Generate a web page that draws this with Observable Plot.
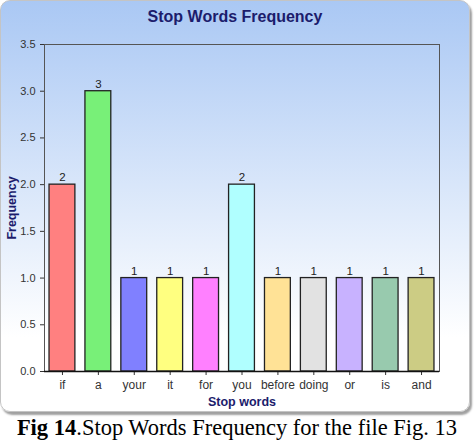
<!DOCTYPE html>
<html><head><meta charset="utf-8">
<script src="https://cdn.jsdelivr.net/npm/d3@7"></script>
<script src="https://cdn.jsdelivr.net/npm/@observablehq/plot@0.6"></script>
<style>
body{margin:0;background:#fff;width:474px;height:440px;overflow:hidden;font-family:"Liberation Sans",Arial,sans-serif;}
#panel{position:absolute;left:0;top:0;width:468px;height:410px;border-radius:10px;background:linear-gradient(#aac8f4,#ffffff 82%);border:1px solid #c4c4c4;box-shadow:2px 3px 2px #a0a0a0;overflow:hidden;}
#title{height:30px;line-height:31px;text-align:center;font-weight:bold;font-size:16px;color:#1c1c6c;}
#caption{position:absolute;top:415px;left:0;width:474px;text-align:center;font-family:"Liberation Serif","Times New Roman",serif;font-size:22.5px;color:#000;}
svg g[aria-label="y-axis label"] text, svg g[aria-label="x-axis label"] text{font-weight:bold;fill:#1c1c6c;font-size:12.5px;}
</style></head>
<body>
<div id="panel"><div id="title">Stop Words Frequency</div><div id="chart"></div></div>
<div id="caption"><b>Fig 14</b>.Stop Words Frequency for the file Fig. 13</div>
<script>
const words = ["if","a","your","it","for","you","before","doing","or","is","and"];
const freqs = [2,3,1,1,1,2,1,1,1,1,1];
const colors = ["#ff8080","#78f078","#8080ff","#ffff80","#ff80ff","#b0ffff","#ffe296","#e2e2e2","#c8b2ff","#98caae","#cccc84"];
const yTicks = [0,0.5,1,1.5,2,2.5,3,3.5];

const data = words.map((w,i)=>({word:w,freq:freqs[i],color:colors[i]}));

const chart = Plot.plot({
  width:468, height:378, marginTop:13, marginLeft:43, marginRight:30, marginBottom:38,
  style:{background:"transparent", fontFamily:"'Liberation Sans', Arial, sans-serif", color:"#333"},
  x:{domain:words, paddingInner:0.28, paddingOuter:0.14, round:false, label:null},
  y:{domain:[0,3.5]},
  marks:[
    Plot.frame({stroke:"#555", strokeWidth:1}),
    Plot.barY(data,{x:"word",y:"freq",fill:"color",stroke:"#222",strokeWidth:1.3}),
    Plot.text(data,{x:"word",y:"freq",text:"freq",dy:-7,fontSize:11.5,fill:"#222"}),
    Plot.axisY({ticks:yTicks, tickFormat:d3.format(".1f"), tickSize:4, fontSize:11, label:"Frequency", labelAnchor:"center", labelArrow:"none", labelOffset:37}),
    Plot.axisX({tickSize:4, fontSize:12, label:"Stop words", labelAnchor:"center", labelOffset:34, labelArrow:"none"}),
    Plot.ruleY([0],{stroke:"#111", strokeWidth:1.5})
  ]
});
document.getElementById("chart").append(chart);
</script>
</body></html>
